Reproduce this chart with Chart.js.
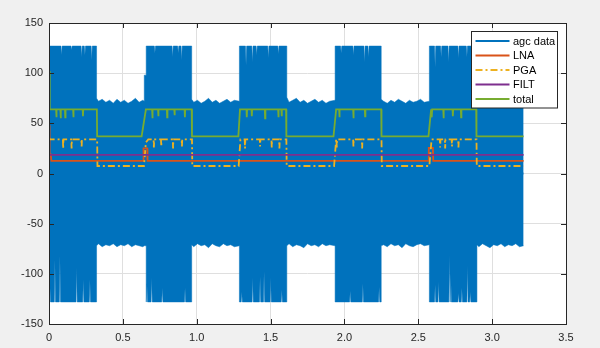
<!DOCTYPE html>
<html>
<head>
<meta charset="utf-8">
<script src="https://cdn.jsdelivr.net/npm/chart.js@4.4.1/dist/chart.umd.min.js"></script>
<style>
html, body { margin: 0; padding: 0; background: #f0f0f0; }
#wrap { width: 600px; height: 348px; }
</style>
</head>
<body>
<div id="wrap"><canvas id="agcChart" width="600" height="348"></canvas></div>
<script>
var xTicks = [0, 0.5, 1, 1.5, 2, 2.5, 3, 3.5];
var yTicks = [-150, -100, -50, 0, 50, 100, 150];
var seriesNames = ['agc data', 'LNA', 'PGA', 'FILT', 'total'];

var agcT = [
  0, 0.322, 0.322, 0.335, 0.36, 0.385, 0.41, 0.435, 0.46, 0.485, 0.51, 0.535, 0.56, 0.585, 0.61, 0.635, 0.645, 0.645, 0.658, 0.658,
  0.966, 0.966, 0.98, 1.005, 1.03, 1.055, 1.08, 1.105, 1.13, 1.155, 1.18, 1.205, 1.23, 1.255, 1.289, 1.289,
  1.610, 1.610, 1.625, 1.65, 1.675, 1.70, 1.725, 1.75, 1.775, 1.80, 1.825, 1.85, 1.875, 1.90, 1.937, 1.937,
  2.249, 2.249, 2.265, 2.29, 2.315, 2.34, 2.365, 2.39, 2.415, 2.44, 2.465, 2.49, 2.515, 2.54, 2.575, 2.575,
  2.897, 2.897, 2.91, 2.935, 2.96, 2.985, 3.01, 3.035, 3.06, 3.085, 3.11, 3.135, 3.16, 3.185, 3.213
];
var agcTop = [
  127, 127, 75, 72, 74, 71, 73, 70, 74, 71, 73, 70, 72, 75, 71, 73, 72, 98, 98, 127,
  127, 74, 71, 73, 70, 72, 75, 71, 73, 70, 72, 74, 71, 73, 72, 127,
  127, 76, 71, 73, 75, 71, 73, 70, 72, 74, 71, 73, 70, 72, 73, 127,
  127, 74, 72, 70, 73, 71, 74, 72, 70, 73, 71, 72, 74, 71, 72, 127,
  127, 72, 74, 71, 73, 70, 72, 75, 71, 73, 70, 72, 74, 71, 73
];
var agcBottom = [
  -128, -128, -72, -70, -73, -71, -72, -70, -73, -71, -72, -70, -73, -71, -72, -73, -72, -72, -72, -128,
  -128, -71, -73, -70, -72, -71, -74, -70, -72, -73, -70, -72, -71, -73, -72, -128,
  -128, -72, -70, -73, -71, -72, -74, -70, -72, -71, -73, -70, -72, -71, -72, -128,
  -128, -72, -71, -73, -70, -72, -71, -74, -70, -72, -73, -71, -70, -72, -71, -128,
  -128, -71, -73, -70, -72, -74, -71, -72, -70, -73, -71, -72, -70, -73, -72
];
// thin light spikes inside the full-scale bursts
var agcTopSpikeT = [0.085, 0.153, 0.221, 0.243, 0.289, 0.717, 0.837, 0.875, 0.898, 1.334, 1.377, 1.406, 1.485, 1.553, 1.978, 2.061, 2.136, 2.163, 2.614, 2.655, 2.705, 2.772, 2.829];
var agcTopSpikeV = [118, 123, 116, 118, 113, 120, 116, 120, 113, 108, 111, 118, 115, 119, 120, 118, 111, 116, 106, 116, 111, 115, 116];
var agcBotSpikeT = [0.006, 0.04, 0.074, 0.187, 0.232, 0.277, 0.663, 0.695, 0.767, 0.921, 1.305, 1.379, 1.429, 1.456, 1.501, 1.576, 2.039, 2.125, 2.235, 2.614, 2.637, 2.711, 2.72, 2.772, 2.795, 2.833, 2.852];
var agcBotSpikeV = [-111, -86, -82, -94, -106, -106, -110, -104, -114, -114, -118, -104, -103, -98, -104, -116, -117, -110, -113, -111, -108, -81, -100, -119, -114, -92, -118];

var lnaT = [0, 0.004, 0.012, 0.016, 0.638, 0.640, 0.665, 0.667, 2.569, 2.571, 2.599, 2.601, 3.213];
var lnaV = [48, 19, 19, 12.6, 12.6, 25, 25, 12.6, 12.6, 25.5, 25.5, 12.6, 12.6];

var pgaT = [0, 0.005, 0.326, 0.328, 0.643, 0.656, 0.672, 0.968, 0.970, 1.284, 1.296, 1.607, 1.609, 1.930, 1.944, 2.251, 2.253, 2.575, 2.59, 2.894, 2.896, 3.213];
var pgaV = [36, 34, 34, 7.5, 7.5, 31, 34, 34, 7.5, 7.5, 34, 34, 7.5, 7.5, 34, 34, 7.5, 7.5, 34, 34, 7.5, 7.5];
var pgaDipT = [0.096, 0.153, 0.221, 0.71, 0.76, 0.84, 0.90, 1.327, 1.429, 1.508, 1.56, 1.948, 2.061, 2.12, 2.648, 2.682, 2.728, 2.772];
var pgaDipV = [25, 25, 27, 26, 27, 25, 27, 25, 27, 26, 25, 26, 27, 25, 26, 25, 27, 26];

var filtT = [0, 3.213];
var filtV = [18.6, 18.6];

var totalT = [0, 0.005, 0.324, 0.326, 0.627, 0.656, 0.966, 0.968, 1.282, 1.293, 1.605, 1.607, 1.926, 1.944, 2.249, 2.251, 2.569, 2.587, 2.892, 2.894, 3.213];
var totalV = [102, 64, 64, 37, 37, 64, 64, 37, 37, 64, 64, 37, 37, 64, 64, 37, 37, 64, 64, 37, 37];
var totalDipT = [0.05, 0.079, 0.11, 0.165, 0.23, 0.70, 0.74, 0.80, 0.85, 0.92, 1.339, 1.373, 1.463, 1.553, 1.575, 1.966, 2.061, 2.14, 2.592, 2.671, 2.734, 2.79];
var totalDipV = [56, 55, 56, 56, 57, 55, 57, 56, 58, 56, 56, 57, 55, 56, 57, 56, 55, 57, 56, 55, 57, 56];

var colors = ['#0072bd', '#d95319', '#edb120', '#7e2f8e', '#77ac30'];

function toPoints(ts, vs) {
  var pts = [];
  for (var i = 0; i < ts.length; i++) pts.push({x: ts[i], y: vs[i]});
  return pts;
}
function levelAt(ts, vs, t) {
  var v = vs[0];
  for (var i = 0; i < ts.length; i++) { if (ts[i] <= t) v = vs[i]; }
  return v;
}
// put narrow one-sample spikes into a stepped trace
function withSpikes(ts, vs, spikeT, spikeV, w) {
  var pts = toPoints(ts, vs);
  for (var i = 0; i < spikeT.length; i++) {
    var base = levelAt(ts, vs, spikeT[i]);
    pts.push({x: spikeT[i] - w, y: base});
    pts.push({x: spikeT[i], y: spikeV[i]});
    pts.push({x: spikeT[i] + w, y: base});
  }
  pts.sort(function(a, b) { return a.x - b.x; });
  return pts;
}

Chart.defaults.font.family = '"Liberation Sans", Arial, sans-serif';
Chart.defaults.font.size = 11;
Chart.defaults.color = '#262626';

var frame = {
  id: 'frame',
  beforeDraw: function(chart) {
    var ctx = chart.ctx, a = chart.chartArea;
    ctx.save();
    ctx.fillStyle = '#f0f0f0';
    ctx.fillRect(0, 0, chart.width, chart.height);
    ctx.fillStyle = '#ffffff';
    ctx.fillRect(a.left, a.top, a.right - a.left, a.bottom - a.top);
    ctx.restore();
  },
  afterDatasetsDraw: function(chart) {
    var ctx = chart.ctx, a = chart.chartArea;
    var xs = chart.scales.x, ys = chart.scales.y, len = 5;
    ctx.save();
    ctx.strokeStyle = '#262626';
    ctx.lineWidth = 1;
    ctx.beginPath();
    xTicks.forEach(function(v) {
      var px = Math.round(xs.getPixelForValue(v)) + 0.5;
      ctx.moveTo(px, a.bottom); ctx.lineTo(px, a.bottom - len);
      ctx.moveTo(px, a.top); ctx.lineTo(px, a.top + len);
    });
    yTicks.forEach(function(v) {
      var py = Math.round(ys.getPixelForValue(v)) + 0.5;
      ctx.moveTo(a.left, py); ctx.lineTo(a.left + len, py);
      ctx.moveTo(a.right, py); ctx.lineTo(a.right - len, py);
    });
    ctx.stroke();
    ctx.strokeRect(Math.round(a.left) + 0.5, Math.round(a.top) + 0.5, Math.round(a.right - a.left), Math.round(a.bottom - a.top));
    ctx.restore();
  }
};

var legendBox = {
  id: 'legendBox',
  afterDraw: function(chart) {
    var ctx = chart.ctx, a = chart.chartArea;
    var items = chart.data.datasets.filter(function(d) { return d.label.charAt(0) !== '_'; });
    var rowH = 14.5, w = 86, h = items.length * rowH + 4;
    var x0 = Math.round(a.right - 9 - w) + 0.5, y0 = Math.round(a.top + 8) + 0.5;
    ctx.save();
    ctx.fillStyle = '#ffffff';
    ctx.fillRect(x0, y0, w, h);
    ctx.strokeStyle = '#262626';
    ctx.lineWidth = 1;
    ctx.strokeRect(x0, y0, w, h);
    ctx.font = '11px "Liberation Sans", Arial, sans-serif';
    ctx.textBaseline = 'middle';
    ctx.fillStyle = '#000000';
    items.forEach(function(d, i) {
      var cy = y0 + 9.5 + i * rowH;
      ctx.strokeStyle = d.legendColor || d.borderColor;
      ctx.lineWidth = 2;
      ctx.setLineDash(d.legendDash || d.borderDash || []);
      ctx.beginPath();
      ctx.moveTo(x0 + 4, cy); ctx.lineTo(x0 + 38, cy);
      ctx.stroke();
      ctx.setLineDash([]);
      ctx.fillText(d.label, x0 + 41.5, cy + 0.5);
    });
    ctx.restore();
  }
};

function lineSet(label, color, pts, order, dash) {
  return {
    label: label, data: pts, borderColor: color, borderWidth: 1.8,
    borderDash: dash || [], pointRadius: 0, tension: 0, fill: false, order: order
  };
}

// the agc edges are filled towards the middle, so the two halves overlap a little
function agcSet(label, pts, fillValue) {
  return {
    label: label, data: pts, borderColor: colors[0], backgroundColor: colors[0],
    borderWidth: 0.5, borderDash: [100000], legendDash: [], legendColor: colors[0],
    pointRadius: 0, tension: 0, fill: {value: fillValue}, order: 6
  };
}

var datasets = [
  agcSet(seriesNames[0], withSpikes(agcT, agcTop, agcTopSpikeT, agcTopSpikeV, 0.004), -1),
  agcSet('_agc lower', withSpikes(agcT, agcBottom, agcBotSpikeT, agcBotSpikeV, 0.004), 1),
  lineSet(seriesNames[1], colors[1], toPoints(lnaT, lnaV), 4),
  lineSet(seriesNames[2], colors[2], withSpikes(pgaT, pgaV, pgaDipT, pgaDipV, 0.002), 3, [7, 3, 2, 3]),
  lineSet(seriesNames[3], colors[3], toPoints(filtT, filtV), 2),
  lineSet(seriesNames[4], colors[4], withSpikes(totalT, totalV, totalDipT, totalDipV, 0.002), 1)
];

new Chart(document.getElementById('agcChart'), {
  type: 'line',
  data: { datasets: datasets },
  options: {
    responsive: false,
    animation: false,
    layout: { padding: { left: 0, right: 34, top: 23, bottom: 0 } },
    plugins: { legend: { display: false }, tooltip: { enabled: false } },
    scales: {
      x: {
        type: 'linear', min: xTicks[0], max: xTicks[xTicks.length - 1],
        afterBuildTicks: function(scale) { scale.ticks = xTicks.map(function(v) { return {value: v}; }); },
        afterFit: function(scale) { scale.height = 24; },
        grid: { color: '#dfdfdf', drawTicks: false },
        border: { display: false },
        ticks: { padding: 7, maxRotation: 0, color: '#262626' }
      },
      y: {
        min: yTicks[0], max: yTicks[yTicks.length - 1],
        afterBuildTicks: function(scale) { scale.ticks = yTicks.map(function(v) { return {value: v}; }); },
        afterFit: function(scale) { scale.width = 49; },
        grid: { color: '#dfdfdf', drawTicks: false },
        border: { display: false },
        ticks: { padding: 6, color: '#262626' }
      }
    }
  },
  plugins: [frame, legendBox]
});
</script>
</body>
</html>
